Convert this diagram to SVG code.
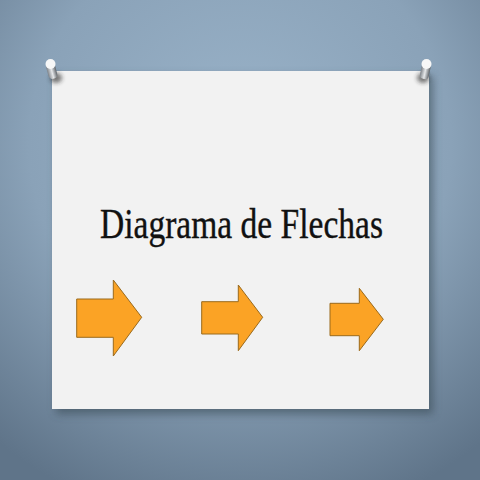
<svg xmlns="http://www.w3.org/2000/svg" width="480" height="480" viewBox="0 0 480 480">
<defs>
<radialGradient id="bg" cx="0.5" cy="0.3" r="0.8">
<stop offset="0" stop-color="#9ab3c9"/>
<stop offset="0.55" stop-color="#8aa2b8"/>
<stop offset="1" stop-color="#5f7489"/>
</radialGradient>
<filter id="sh" x="-10%" y="-10%" width="120%" height="125%">
<feGaussianBlur stdDeviation="4"/>
</filter>
<filter id="psh" x="-50%" y="-50%" width="200%" height="200%">
<feGaussianBlur stdDeviation="2"/>
</filter>
<linearGradient id="pin" x1="0" y1="0" x2="1" y2="0">
<stop offset="0" stop-color="#7d8288"/>
<stop offset="0.5" stop-color="#e6e8ea"/>
<stop offset="1" stop-color="#5f6469"/>
</linearGradient>
<style>
.arrow{fill:#fba325;stroke:#9a6a1c;stroke-width:1}
.title{font-family:"Liberation Serif","DejaVu Serif",serif;font-size:42px;fill:#111;stroke:#111;stroke-width:0.4}
</style>
</defs>
<rect width="480" height="480" fill="url(#bg)"/>
<g id="paper">
<rect x="56" y="76" width="377" height="338" fill="#34444f" opacity="0.55" filter="url(#sh)"/>
<rect x="52" y="71" width="377" height="338" fill="#f2f2f2"/>
</g>
<g id="pins">
<ellipse cx="56" cy="78" rx="6" ry="5" fill="#222" opacity="0.6" filter="url(#psh)"/>
<rect x="47" y="63" width="9" height="16" rx="4" fill="url(#pin)" transform="rotate(-15 51 70)"/>
<ellipse cx="50.5" cy="64" rx="5" ry="5" fill="#f7f7f7"/>
<ellipse cx="423" cy="78" rx="6" ry="5" fill="#222" opacity="0.6" filter="url(#psh)"/>
<rect x="421" y="63" width="9" height="16" rx="4" fill="url(#pin)" transform="rotate(12 425 70)"/>
<ellipse cx="426.5" cy="64" rx="5" ry="5" fill="#f7f7f7"/>
</g>
<g id="title">
<text class="title" x="100" y="238" textLength="283" lengthAdjust="spacingAndGlyphs">Diagrama de Flechas</text>
</g>
<g id="arrow1">
<polygon class="arrow" points="76.7,299 113.3,299 113.3,280 141.7,317.3 113.3,356 113.3,337.3 76.7,337.3"/>
</g>
<g id="arrow2">
<polygon class="arrow" points="201.7,301.7 238.3,301.7 238.3,285 262.7,317.3 238.3,350.7 238.3,334 201.7,334"/>
</g>
<g id="arrow3">
<polygon class="arrow" points="330,303.3 359.3,303.3 359.3,288.3 383.3,319.3 359.3,350.7 359.3,335.7 330,335.7"/>
</g>
<g id="connectors"/>
</svg>
